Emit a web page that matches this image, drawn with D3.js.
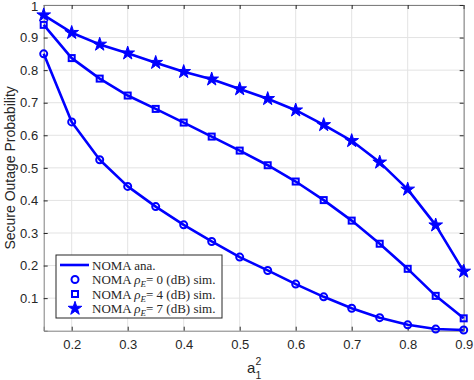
<!DOCTYPE html>
<html><head><meta charset="utf-8">
<script src="https://cdn.jsdelivr.net/npm/d3@7"></script>
<style>body{margin:0;background:#fff}svg{display:block}</style>
</head><body>
<script>
const xValues = [0.15,0.2,0.25,0.3,0.35,0.4,0.45,0.5,0.55,0.6,0.65,0.7,0.75,0.8,0.85,0.9];
const rho0 = [0.850,0.641,0.525,0.443,0.381,0.325,0.274,0.226,0.185,0.143,0.104,0.069,0.040,0.018,0.005,0.002];
const rho4 = [0.939,0.837,0.774,0.722,0.681,0.639,0.596,0.553,0.508,0.458,0.401,0.338,0.267,0.190,0.107,0.038];
const rho7 = [0.969,0.915,0.879,0.852,0.823,0.795,0.772,0.742,0.712,0.677,0.632,0.583,0.517,0.434,0.324,0.182];
const xTicks = [0.2,0.3,0.4,0.5,0.6,0.7,0.8,0.9];
const yTicks = [0.1,0.2,0.3,0.4,0.5,0.6,0.7,0.8,0.9,1];
const legendLabels = ["NOMA ana.", "0", "4", "7"];

const W=474,H=380;
const svg=d3.select("body").append("svg").attr("width",W).attr("height",H);
const x=d3.scaleLinear().domain([0.15,0.9]).range([43.7,463.7]);
const y=d3.scaleLinear().domain([0,1]).range([330.7,5]);
const axisCol="#262626", gridCol="#e3e3e3", blue="#0000ff";
const tickFont="Liberation Sans, Arial, sans-serif";

// grid
svg.append("g").selectAll("line").data(xTicks).join("line")
 .attr("x1",d=>x(d)).attr("x2",d=>x(d)).attr("y1",y(0)).attr("y2",y(1))
 .attr("stroke",gridCol).attr("stroke-width",1);
svg.append("g").selectAll("line").data(yTicks).join("line")
 .attr("x1",x(0.15)).attr("x2",x(0.9)).attr("y1",d=>y(d)).attr("y2",d=>y(d))
 .attr("stroke",gridCol).attr("stroke-width",1);

// axes (inward ticks)
const ax=svg.append("g").attr("transform",`translate(0,${y(0)})`)
 .call(d3.axisBottom(x).tickValues(xTicks).tickSize(-4).tickPadding(9).tickFormat(d3.format("")));
const ay=svg.append("g").attr("transform",`translate(${x(0.15)},0)`)
 .call(d3.axisLeft(y).tickValues(yTicks).tickSize(-4).tickPadding(5.5).tickFormat(d=>d===1?"1":d3.format(".1f")(d)));
const axt=svg.append("g").attr("transform",`translate(0,${y(1)})`)
 .call(d3.axisTop(x).tickValues(xTicks).tickSize(-4).tickFormat(""));
const ayr=svg.append("g").attr("transform",`translate(${x(0.9)},0)`)
 .call(d3.axisRight(y).tickValues(yTicks).tickSize(-4).tickFormat(""));
[ax,ay,axt,ayr].forEach(g=>{
  g.select(".domain").attr("stroke","#7f7f7f").attr("stroke-width",1);
  g.selectAll(".tick line").attr("stroke",axisCol);
  g.selectAll("text").attr("fill",axisCol).style("font-family",tickFont).style("font-size","13px");
});
ay.selectAll(".tick").filter(d=>d===1).select("text").attr("dy","0.45em");

// lines
const series=[rho0,rho4,rho7];
const line=d3.line().x((d,i)=>x(xValues[i])).y(d=>y(d));
series.forEach(s=>{
  svg.append("path").datum(s).attr("d",line).attr("fill","none")
   .attr("stroke",blue).attr("stroke-width",2.6).attr("stroke-linejoin","round");
});
// markers
function circleM(g,cx,cy){g.append("circle").attr("cx",cx).attr("cy",cy).attr("r",3.5).attr("fill","none").attr("stroke",blue).attr("stroke-width",2);}
function squareM(g,cx,cy){g.append("rect").attr("x",cx-3).attr("y",cy-3).attr("width",6).attr("height",6).attr("fill","none").attr("stroke",blue).attr("stroke-width",2);}
const starPath=d3.symbol().type(d3.symbolStar).size(58);
function starM(g,cx,cy){g.append("path").attr("d",starPath()).attr("transform",`translate(${cx},${cy})`).attr("fill",blue).attr("stroke",blue).attr("stroke-width",1).attr("stroke-linejoin","miter");}
const markers=[circleM,squareM,starM];
series.forEach((s,k)=>{
  const g=svg.append("g");
  s.forEach((v,i)=>markers[k](g,x(xValues[i]),y(v)));
});

// legend
const lg=svg.append("g");
lg.append("rect").attr("x",56).attr("y",255).attr("width",166).attr("height",63)
 .attr("fill","#fff").attr("stroke","#262626").attr("stroke-width",1);
const serif="Liberation Serif, Times New Roman, serif";
const rowsY=[265,279.5,294,308.5];
lg.append("line").attr("x1",60).attr("x2",89).attr("y1",rowsY[0]).attr("y2",rowsY[0]).attr("stroke",blue).attr("stroke-width",2.6);
lg.append("text").attr("x",92).attr("y",rowsY[0]+4.5).style("font-family",serif).style("font-size","13px").attr("fill","#262626").text(legendLabels[0]);
[1,2,3].forEach(k=>{
  markers[k-1](lg,75,rowsY[k]);
  const t=lg.append("text").attr("x",92).attr("y",rowsY[k]+4.5).style("font-family",serif).style("font-size","13px").attr("fill","#262626");
  t.append("tspan").text("NOMA ");
  t.append("tspan").attr("font-style","italic").text("ρ");
  t.append("tspan").attr("font-style","italic").attr("font-size","9px").attr("dy",3).text("E");
  t.append("tspan").attr("dy",-3).text("= "+legendLabels[k]+" (dB) sim.");
});

// axis labels
svg.append("text").attr("transform",`translate(15,${(y(0)+y(1))/2}) rotate(-90)`)
 .attr("text-anchor","middle").style("font-family",tickFont).style("font-size","14px").attr("fill",axisCol)
 .text("Secure Outage Probability");
svg.append("text").attr("x",247).attr("y",373).style("font-family",tickFont).style("font-size","15px").attr("fill",axisCol).text("a");
svg.append("text").attr("x",255.5).attr("y",365).style("font-family",tickFont).style("font-size","10.5px").attr("fill",axisCol).text("2");
svg.append("text").attr("x",255.5).attr("y",379).style("font-family",tickFont).style("font-size","10.5px").attr("fill",axisCol).text("1");
</script>
</body></html>
